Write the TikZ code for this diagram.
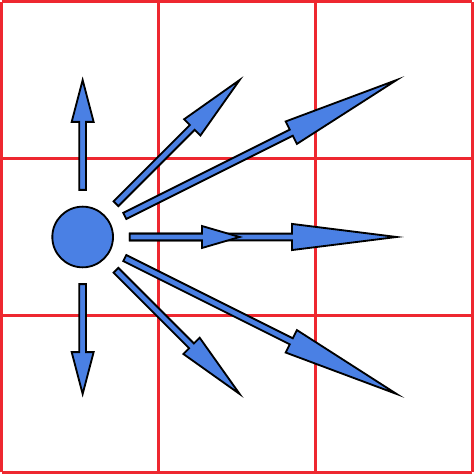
\documentclass[tikz,border=0pt]{standalone}
\usepackage{tikz}
\usetikzlibrary{positioning,calc}
\definecolor{gridred}{RGB}{238, 40, 48}
\definecolor{ballblue}{RGB}{74, 128, 228}
\tikzstyle{ball} = [circle, draw=black, line width=1pt, fill=ballblue, inner sep=0pt, minimum size=1.16cm]
\tikzstyle{vec} = [draw=black, line width=1pt, fill=ballblue, line join=miter]
\tikzstyle{gridline} = [draw=gridred, line width=1.2pt]
% arrow from the ball to #1, head length #2, half head width #3
\newcommand{\fatarrow}[3]{%
  \coordinate (tail) at ($(ball.center)!0.9cm!(#1)$);
  \coordinate (hb) at ($(#1)!#2!(tail)$);
  \draw[vec] ($(tail)!0.065cm!90:(#1)$) -- ($(hb)!0.065cm!-90:(tail)$) -- ($(hb)!#3!-90:(tail)$) -- (#1)
    -- ($(hb)!#3!90:(tail)$) -- ($(hb)!0.065cm!90:(tail)$) -- ($(tail)!0.065cm!-90:(#1)$) -- cycle;
}

\begin{document}
\begin{tikzpicture}

\useasboundingbox (-0.03,-0.03) rectangle (9.03,9.03);

% grid =============================
\draw[gridline, step=3cm] (0,0) grid (9,9);

% ball
\node[ball] (ball) at (1.55,4.5) {};

% arrow tips
\coordinate[above=3cm of ball.center] (n);
\coordinate[below=3cm of ball.center] (s);
\coordinate[above right=3cm and 3cm of ball.center] (ne);
\coordinate[above right=3cm and 6cm of ball.center] (nee);
\coordinate[right=3cm of ball.center] (e);
\coordinate[right=6cm of ball.center] (ee);
\coordinate[below right=3cm and 3cm of ball.center] (se);
\coordinate[below right=3cm and 6cm of ball.center] (see);

% arrows
\fatarrow{n}{0.8cm}{0.21cm}
\fatarrow{s}{0.8cm}{0.21cm}
\fatarrow{ne}{1.28cm}{0.22cm}
\fatarrow{se}{1.3cm}{0.22cm}
\fatarrow{nee}{2.25cm}{0.24cm}
\fatarrow{see}{2.25cm}{0.24cm}
\fatarrow{ee}{2.0cm}{0.25cm}
\fatarrow{e}{0.72cm}{0.21cm}

\end{tikzpicture}
\end{document}
